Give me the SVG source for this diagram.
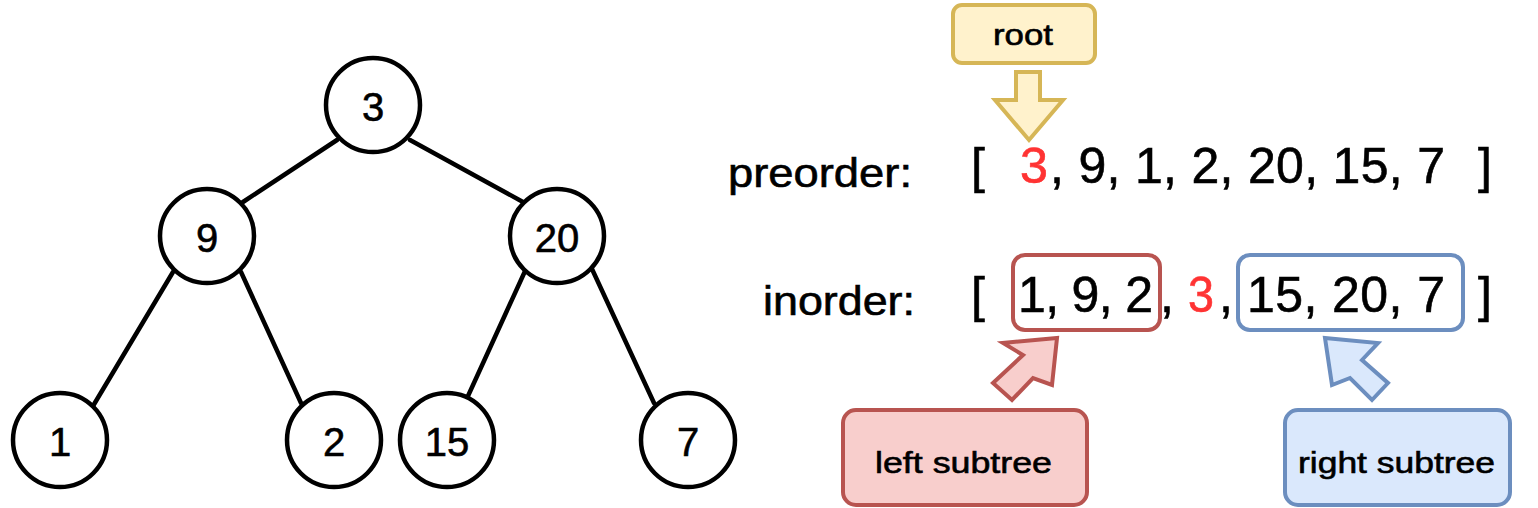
<svg xmlns="http://www.w3.org/2000/svg" width="1538" height="508" viewBox="0 0 1538 508">
<style>
  .edge{stroke:#000;stroke-width:4.5;fill:none;stroke-linecap:round}
  .node circle{fill:#fff;stroke:#000;stroke-width:4.5}
  .node text{font-family:"Liberation Sans","DejaVu Sans",sans-serif;font-size:40px;text-anchor:middle;fill:#000;stroke:#000;stroke-width:0.6}
  .t{font-family:"Liberation Sans","DejaVu Sans",sans-serif;fill:#000;stroke:#000;stroke-width:0.6}
  .lbl{font-size:40px}
  .arr{font-size:50px}
  .red{fill:#ff3333;stroke:#ff3333}
</style>
<rect width="1538" height="508" fill="#fff"/>
<g id="connectors">
  <line class="edge" x1="337" y1="140" x2="243" y2="202"/>
  <line class="edge" x1="410" y1="140" x2="523" y2="202"/>
  <line class="edge" x1="173" y1="272" x2="93" y2="406"/>
  <line class="edge" x1="241" y1="272" x2="301" y2="403"/>
  <line class="edge" x1="526" y1="269" x2="468" y2="396"/>
  <line class="edge" x1="592" y1="269" x2="654" y2="403"/>
</g>
<g id="node-3" class="node"><circle cx="373" cy="105" r="47"/><text x="373" y="121">3</text></g>
<g id="node-9" class="node"><circle cx="207" cy="236" r="47"/><text x="207" y="252">9</text></g>
<g id="node-20" class="node"><circle cx="557" cy="236" r="47"/><text x="557" y="252">20</text></g>
<g id="node-1" class="node"><circle cx="60" cy="440" r="47"/><text x="60" y="456">1</text></g>
<g id="node-2" class="node"><circle cx="334" cy="440" r="47"/><text x="334" y="456">2</text></g>
<g id="node-15" class="node"><circle cx="447" cy="440" r="47"/><text x="447" y="456">15</text></g>
<g id="node-7" class="node"><circle cx="688" cy="440" r="47"/><text x="688" y="456">7</text></g>

<g id="root-label">
  <rect x="953" y="5" width="142" height="58" rx="9" fill="#fff2cc" stroke="#d6b656" stroke-width="4"/>
  <text class="t" x="993" y="45" font-size="29" textLength="60" lengthAdjust="spacingAndGlyphs">root</text>
</g>
<g id="root-arrow">
  <polygon points="1016,72 1040,72 1040,100 1063,100 1029,140 995,100 1016,100" fill="#fff2cc" stroke="#d6b656" stroke-width="4" stroke-linejoin="miter"/>
</g>

<g id="preorder">
  <text class="t lbl" x="728" y="187" textLength="184" lengthAdjust="spacingAndGlyphs">preorder:</text>
  <text class="t arr" x="971" y="183">[</text>
  <text class="t arr red" x="1020" y="183" textLength="28" lengthAdjust="spacingAndGlyphs">3</text>
  <text class="t arr" x="1050" y="183" textLength="395" lengthAdjust="spacing">, 9, 1, 2, 20, 15, 7</text>
  <text class="t arr" x="1478" y="183">]</text>
</g>

<g id="inorder">
  <text class="t lbl" x="763" y="315" textLength="152" lengthAdjust="spacingAndGlyphs">inorder:</text>
  <text class="t arr" x="971" y="312">[</text>
  <text class="t arr" x="1018" y="312" textLength="135" lengthAdjust="spacing">1, 9, 2</text>
  <text class="t arr" x="1160" y="312">,</text>
  <text class="t arr red" x="1188" y="312" textLength="26" lengthAdjust="spacingAndGlyphs">3</text>
  <text class="t arr" x="1219" y="312">,</text>
  <text class="t arr" x="1247" y="312" textLength="198" lengthAdjust="spacing">15, 20, 7</text>
  <text class="t arr" x="1478" y="312">]</text>
</g>

<g id="left-range"><rect x="1013" y="255" width="147" height="75" rx="12" fill="none" stroke="#b85450" stroke-width="4"/></g>
<g id="right-range"><rect x="1238" y="255" width="225" height="75" rx="12" fill="none" stroke="#6c8ebf" stroke-width="4"/></g>

<g id="left-arrow">
  <polygon points="1057,338 1052,385 1033,378 1012,400 993,383 1023,355 1003,343" fill="#f8cecc" stroke="#b85450" stroke-width="4" stroke-linejoin="miter"/>
</g>
<g id="right-arrow">
  <polygon points="1325,338 1378,343 1362,360 1388,383 1372,400 1350,378 1332,385" fill="#dae8fc" stroke="#6c8ebf" stroke-width="4" stroke-linejoin="miter"/>
</g>

<g id="left-subtree">
  <rect x="843" y="410" width="244" height="95" rx="13" fill="#f8cecc" stroke="#b85450" stroke-width="4"/>
  <text class="t" x="875" y="473" font-size="30" textLength="177" lengthAdjust="spacingAndGlyphs">left subtree</text>
</g>
<g id="right-subtree">
  <rect x="1285" y="410" width="225" height="95" rx="13" fill="#dae8fc" stroke="#6c8ebf" stroke-width="4"/>
  <text class="t" x="1298" y="473" font-size="30" textLength="197" lengthAdjust="spacingAndGlyphs">right subtree</text>
</g>
</svg>
